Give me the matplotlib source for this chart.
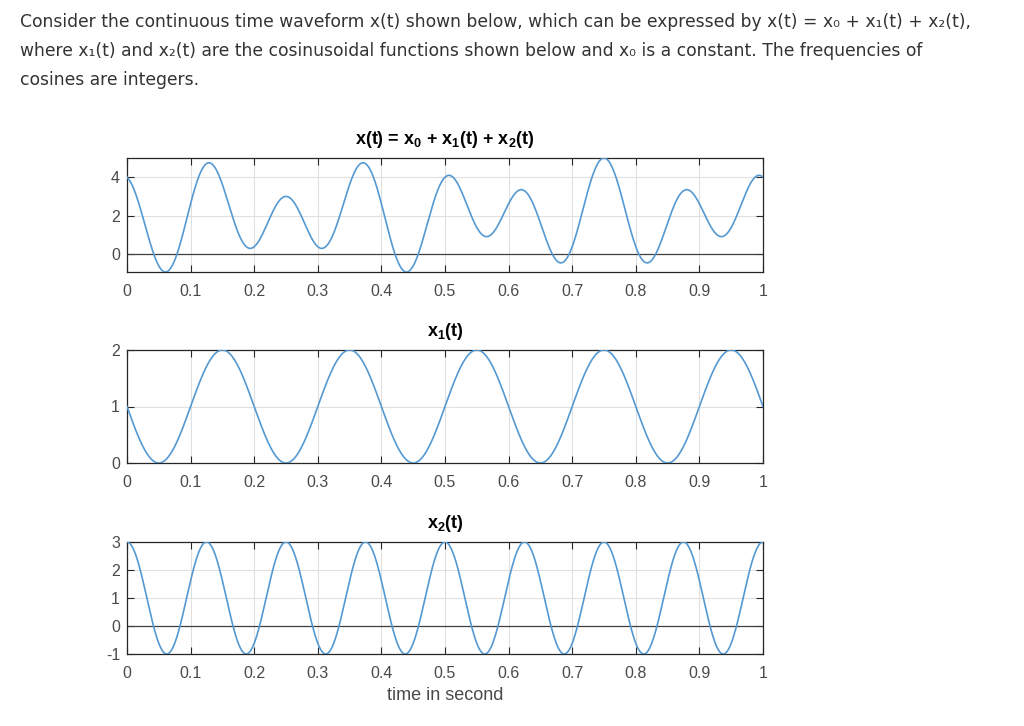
import numpy as np
import matplotlib.pyplot as plt

# values
x0 = 0.0
# x1(t): offset, amplitude, frequency (Hz), time of first peak (s)
x1_offset, x1_amp, x1_freq, x1_peak = 1.0, 1.0, 5, 0.15
# x2(t)
x2_offset, x2_amp, x2_freq, x2_peak = 1.0, 2.0, 8, 0.0

xticks = [0, 0.1, 0.2, 0.3, 0.4, 0.5, 0.6, 0.7, 0.8, 0.9, 1]
xticklabels = ['0', '0.1', '0.2', '0.3', '0.4', '0.5', '0.6', '0.7', '0.8', '0.9', '1']
yticks_x = [0, 2, 4]
yticks_x1 = [0, 1, 2]
yticks_x2 = [-1, 0, 1, 2, 3]

titles = [r'x(t) = x$_\mathbf{0}$ + x$_\mathbf{1}$(t) + x$_\mathbf{2}$(t)',
          r'x$_\mathbf{1}$(t)', r'x$_\mathbf{2}$(t)']
xlabel = 'time in second'

header = ["Consider the continuous time waveform x(t) shown below, which can be expressed by x(t) = x\u2080 + x\u2081(t) + x\u2082(t),",
          "where x\u2081(t) and x\u2082(t) are the cosinusoidal functions shown below and x\u2080 is a constant. The frequencies of",
          "cosines are integers."]

t = np.linspace(0, 1, 2001)
x1 = x1_offset + x1_amp * np.cos(2 * np.pi * x1_freq * (t - x1_peak))
x2 = x2_offset + x2_amp * np.cos(2 * np.pi * x2_freq * (t - x2_peak))
x = x0 + x1 + x2

plt.rcParams['font.family'] = ['Liberation Sans', 'DejaVu Sans']
plt.rcParams['mathtext.fontset'] = 'custom'
plt.rcParams['mathtext.rm'] = 'Liberation Sans'
plt.rcParams['mathtext.bf'] = 'Liberation Sans:bold'
plt.rcParams['axes.unicode_minus'] = False

fig = plt.figure(figsize=(10.24, 7.26), dpi=100)
W, H = 1024, 726

def add_ax(top, bottom, left=127, right=763):
    return fig.add_axes([left / W, 1 - bottom / H, (right - left) / W, (bottom - top) / H])

axes = [add_ax(158, 272), add_ax(350, 463), add_ax(542, 654)]
data = [x, x1, x2]
yt = [yticks_x, yticks_x1, yticks_x2]
dark = '#262626'
lab = '#4a4a4a'
line_col = '#5499d2'

for i, ax in enumerate(axes):
    y = data[i]
    ax.plot(t, y, color=line_col, lw=1.2, zorder=3)
    if i != 1:
        ax.axhline(0, color='#404040', lw=0.9, zorder=2)
    ax.set_xlim(0, 1)
    ax.set_ylim(y.min(), y.max())
    ax.set_xticks(xticks)
    ax.set_xticklabels(xticklabels)
    ax.set_yticks(yt[i])
    ax.grid(True, color='#e0e0e0', lw=0.8)
    ax.set_axisbelow(True)
    ax.tick_params(direction='in', top=True, right=True, length=5, width=0.8,
                   color=dark, labelcolor=lab, labelsize=11.5)
    ax.tick_params(axis='x', pad=9)
    ax.tick_params(axis='y', pad=5)
    for s in ax.spines.values():
        s.set_color(dark)
        s.set_linewidth(0.9)
    ax.set_title(titles[i], fontsize=13, fontweight='bold', color='black', pad=10)

axes[2].set_xlabel(xlabel, fontsize=13, color=lab, labelpad=4)

for k, line in enumerate(header):
    fig.text(20 / W, 1 - (22 + 29 * k) / H, line, fontsize=12.3, color='#333333',
             family=['DejaVu Sans'], va='center', ha='left')

fig.savefig('out.png', dpi=100)
